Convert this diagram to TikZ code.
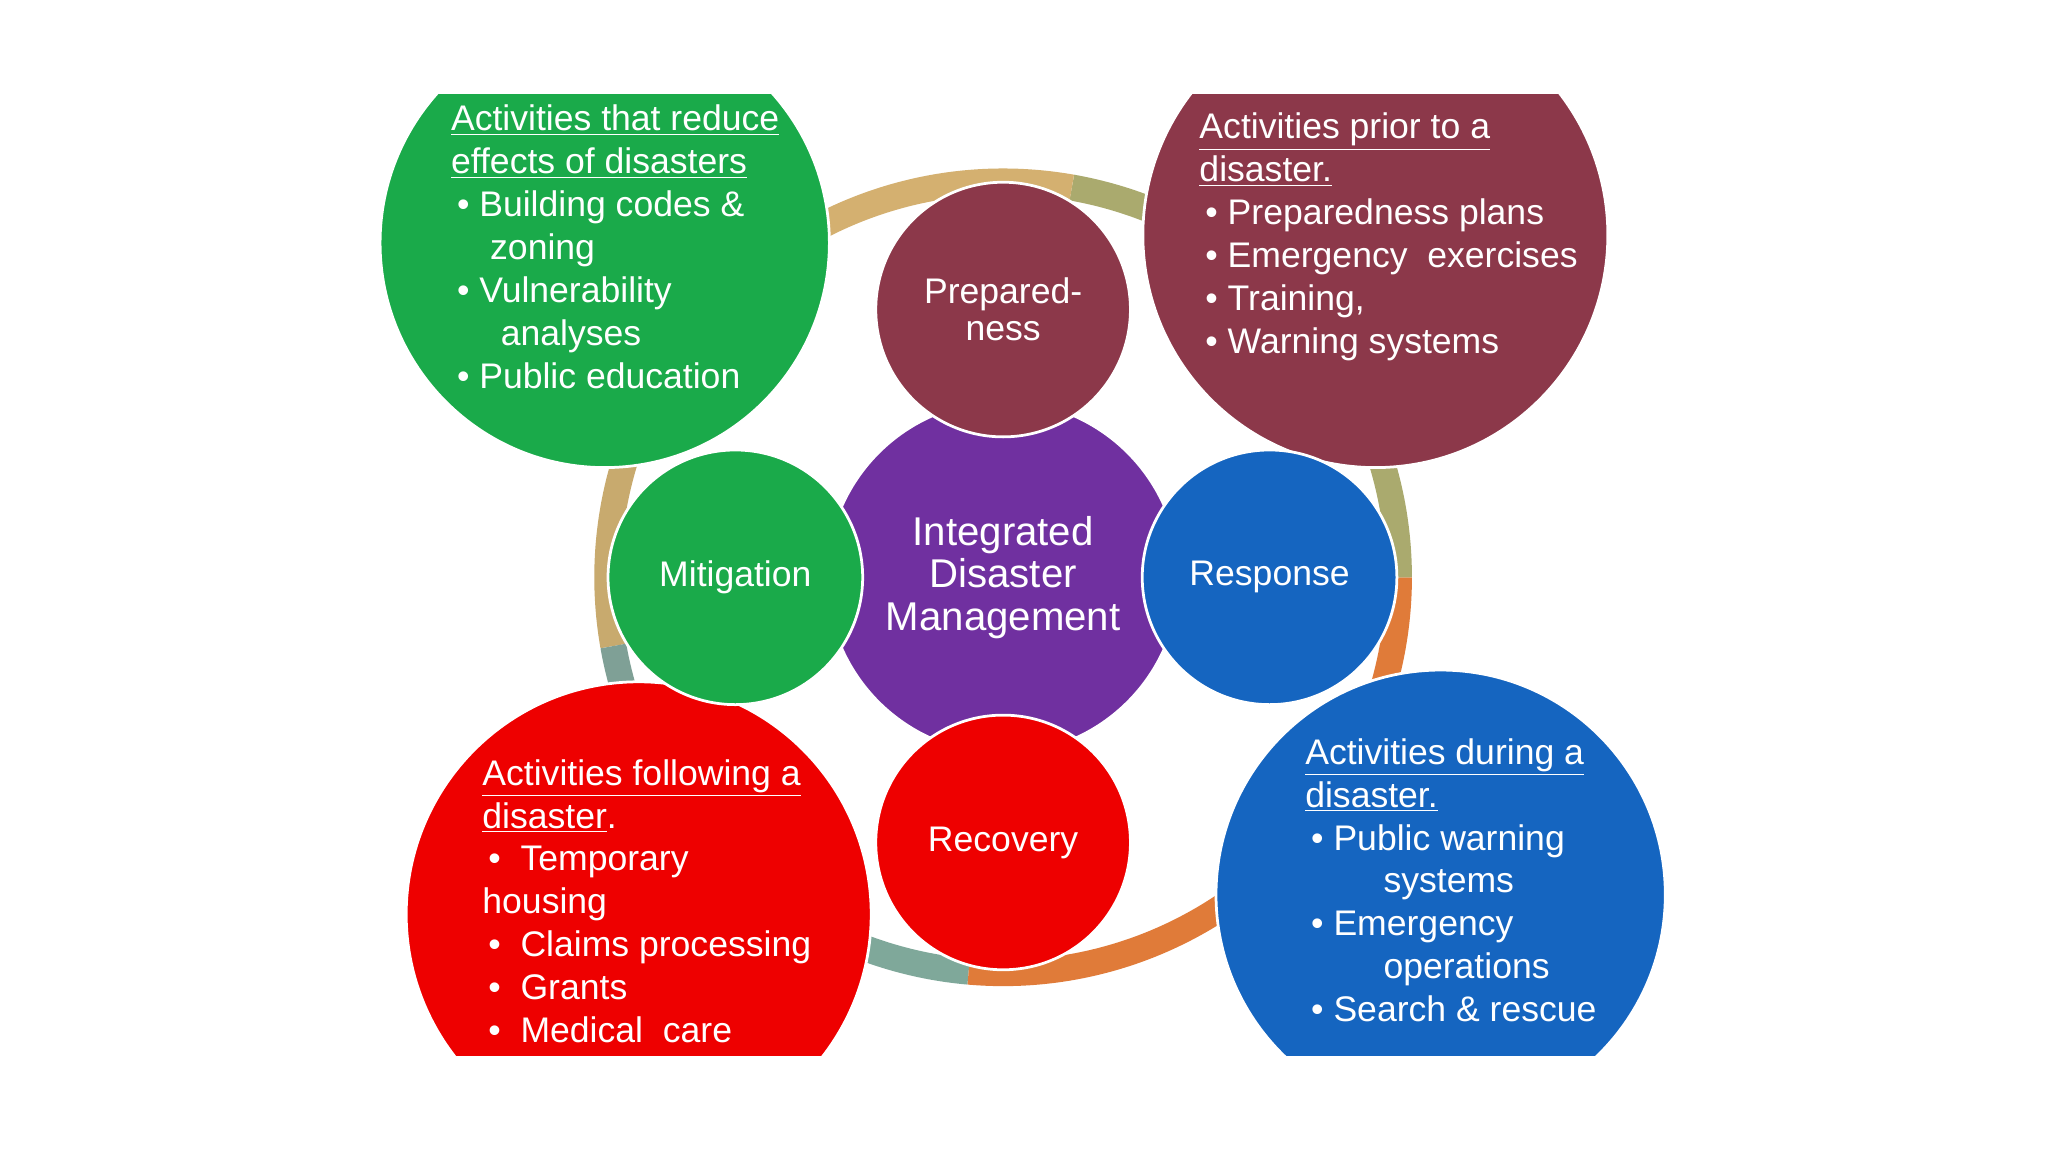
\documentclass[tikz,border=0pt]{standalone}
\usepackage{fontspec}
\setmainfont{Liberation Sans}
\begin{document}
\begin{tikzpicture}[x=0.02cm,y=-0.02cm,
 circ/.style={draw=white,line width=1.2pt},
 txt/.style={text=white,align=left,anchor=north west,inner sep=0pt,font=\fontsize{15.5}{18.7}\selectfont},
 lbl/.style={text=white,align=center,font=\fontsize{15.5}{16}\selectfont}]
\useasboundingbox (0,0) rectangle (1568,882);
\fill[white] (0,0) rectangle (1568,882);
% ring
\def\R{303}
\tikzset{ring/.style={line width=0.4cm}}
\draw[ring,color={rgb,255:red,127;green,168;blue,154}] (768,442) ++(150:\R) arc[start angle=150,end angle=95,radius=\R];
\draw[ring,color={rgb,255:red,224;green,123;blue,57}] (768,442) ++(95:\R) arc[start angle=95,end angle=30,radius=\R];
\draw[ring,color={rgb,255:red,224;green,123;blue,57}] (768,442) ++(30:\R) arc[start angle=30,end angle=0,radius=\R];
\draw[ring,color={rgb,255:red,170;green,170;blue,110}] (768,442) ++(0:\R) arc[start angle=0,end angle=-80,radius=\R];
\draw[ring,color={rgb,255:red,212;green,176;blue,112}] (768,442) ++(-80:\R) arc[start angle=-80,end angle=-150,radius=\R];
\draw[ring,color={rgb,255:red,200;green,170;blue,110}] (768,442) ++(-150:\R) arc[start angle=-150,end angle=-190,radius=\R];
\draw[ring,color={rgb,255:red,127;green,160;blue,150}] (768,442) ++(170:\R) arc[start angle=170,end angle=150,radius=\R];
% big circles, clipped
\begin{scope}
\clip (0,72) rectangle (1568,808);
\fill[circ,fill={rgb,255:red,26;green,170;blue,74}] (463,186) circle[radius=172];
\fill[circ,fill={rgb,255:red,140;green,56;blue,74}] (1053,180) circle[radius=178];
\fill[circ,fill={rgb,255:red,238;green,0;blue,0}] (489,700) circle[radius=178];
\fill[circ,fill={rgb,255:red,21;green,101;blue,192}] (1103,685) circle[radius=172];
\end{scope}
% small circles
\node[circ,circle,fill={rgb,255:red,112;green,48;blue,160},minimum size=5.4cm,inner sep=0pt] (c) at (768,442) {};
\node[circ,circle,fill={rgb,255:red,140;green,56;blue,74},minimum size=3.9cm] (p) at (768,237) {};
\node[circ,circle,fill={rgb,255:red,26;green,170;blue,74},minimum size=3.9cm] (m) at (563,442) {};
\node[circ,circle,fill={rgb,255:red,21;green,101;blue,192},minimum size=3.9cm] (r) at (972,442) {};
\node[circ,circle,fill={rgb,255:red,238;green,0;blue,0},minimum size=3.9cm] (v) at (768,645) {};
\node[lbl,font=\fontsize{17.5}{18.5}\selectfont] (ct) at (768,442) {Integrated\\Disaster\\Management};
\node[lbl] (pt) at (768,237) {Prepared-\\ness};
\node[lbl] (mt) at (563,442) {Mitigation};
\node[lbl] (rt) at (972,442) {Response};
\node[lbl] (vt) at (768,645) {Recovery};
% texts
\node[txt] (t1) at (345,80) {\underline{Activities that reduce}\\\underline{effects of disasters}\\\,• Building codes \&\\\hspace{1.1em}zoning\\\,• Vulnerability\\\hspace{1.4em}analyses\\\,• Public education};
\node[txt] (t2) at (918,86) {\underline{Activities prior to a}\\\underline{disaster.}\\\,• Preparedness plans\\\,• Emergency\ \ exercises\\\,• Training,\\\,• Warning systems};
\node[txt] (t3) at (369,581) {\underline{Activities following a}\\\underline{disaster}.\\\,•\ \ Temporary\\housing\\\,•\ \ Claims processing\\\,•\ \ Grants\\\,•\ \ Medical\ \ care};
\node[txt] (t4) at (999,565) {\underline{Activities during a}\\\underline{disaster.}\\\,• Public warning\\\hspace{2.2em}systems\\\,• Emergency\\\hspace{2.2em}operations\\\,• Search \& rescue};
\end{tikzpicture}
\end{document}
